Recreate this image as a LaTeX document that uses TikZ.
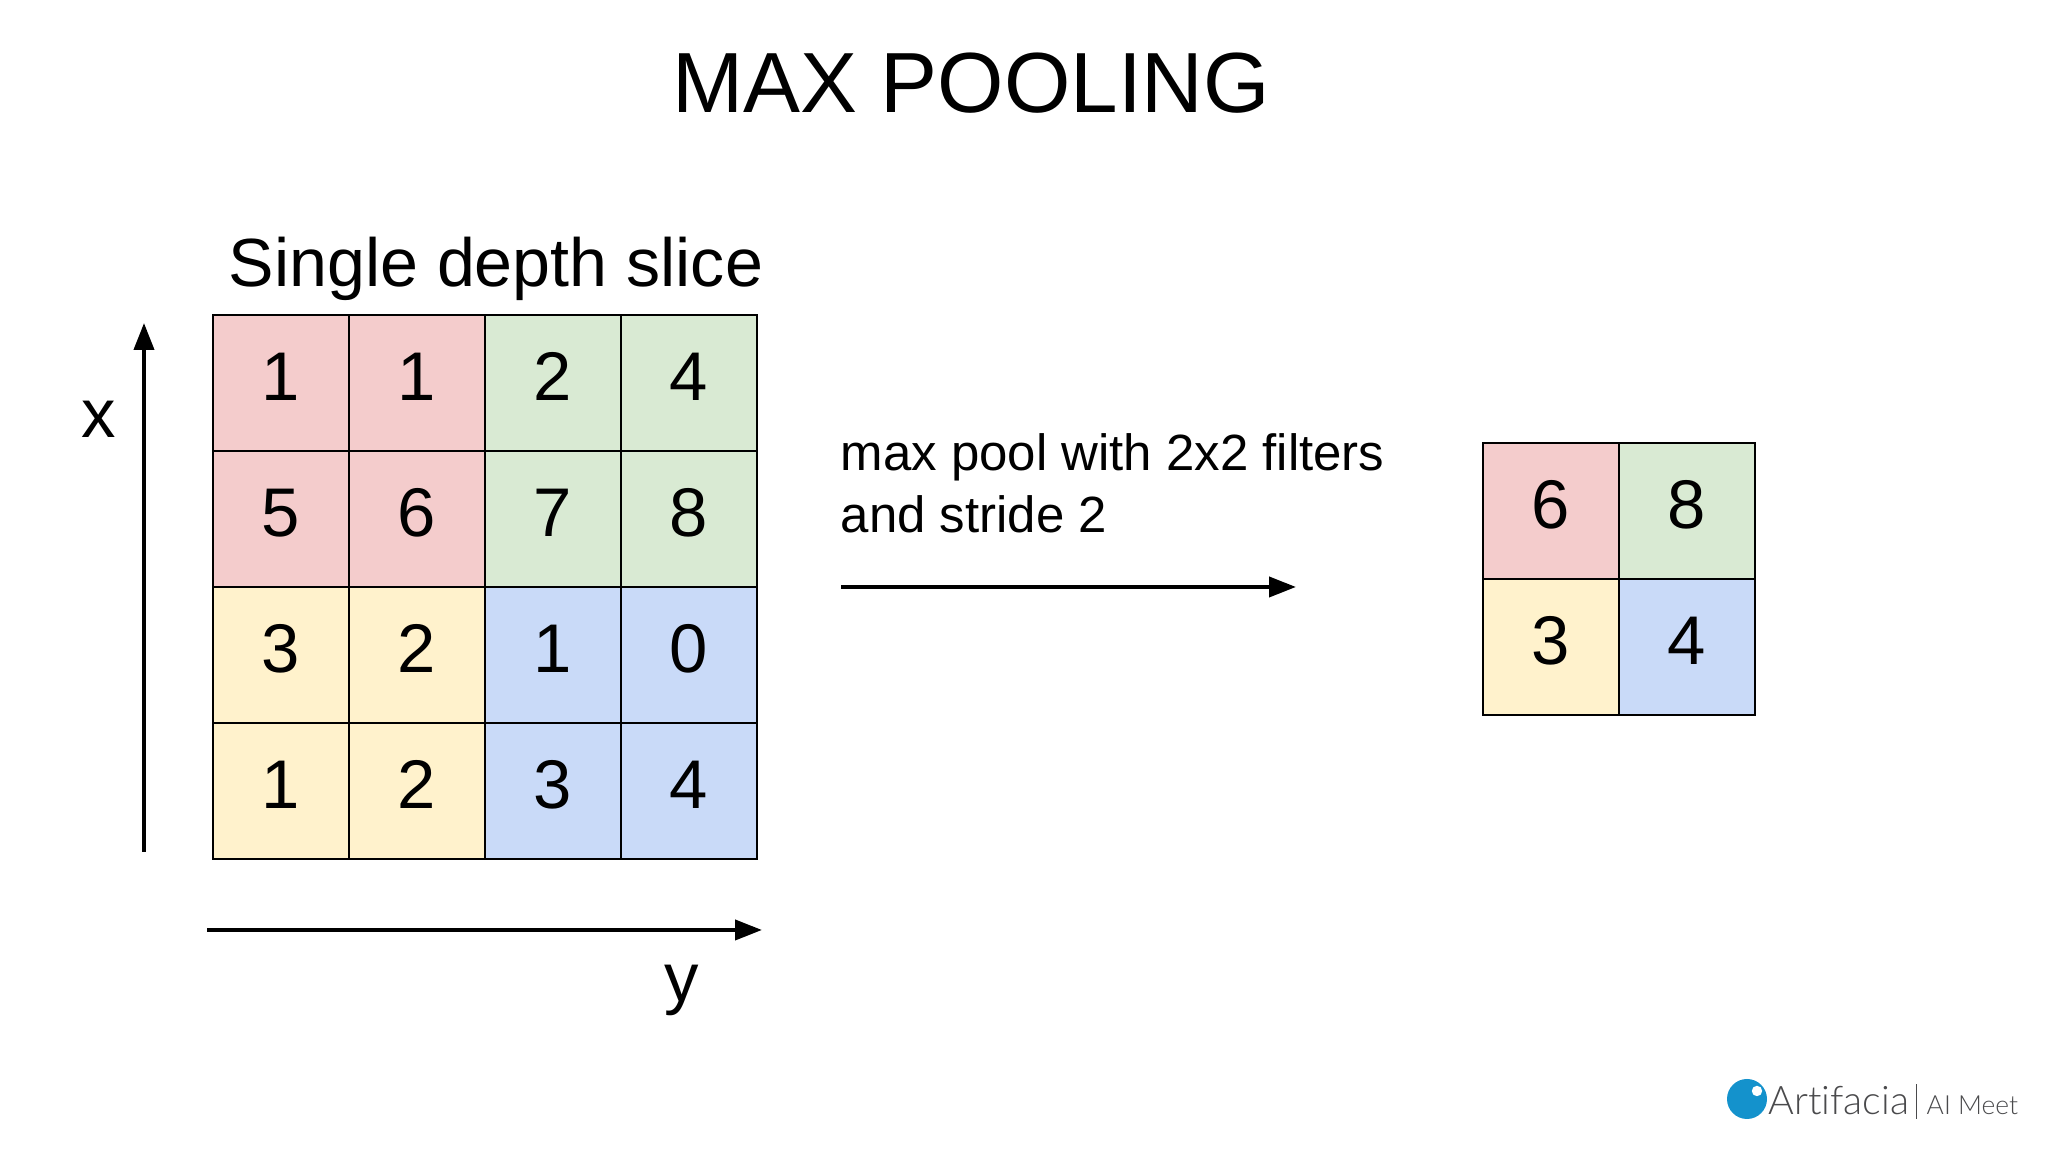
\documentclass[tikz,border=0pt]{standalone}
\usepackage{fontspec}
\setmainfont{Liberation Sans}
\newfontfamily\logofont[Ligatures={NoCommon}]{Lato Light}
\usepackage{xcolor}
\usetikzlibrary{arrows.meta,positioning}
\definecolor{cellred}{HTML}{F4CCCC}
\definecolor{cellgreen}{HTML}{D9EAD3}
\definecolor{cellyellow}{HTML}{FFF2CC}
\definecolor{cellblue}{HTML}{C9DAF8}
\definecolor{logoblue}{HTML}{1492CC}
\definecolor{logogray}{HTML}{4A4A4C}
\tikzset{
  ax/.style={-{Triangle[length=0.27cm,width=0.20cm]},line width=0.04cm,black},
  cell/.style={draw=black,line width=0.02cm,minimum size=1.36cm,inner sep=0pt,outer sep=0pt,
    text height=0.49cm,text depth=0.14cm,font=\fontsize{19.6}{22}\selectfont},
  cellR/.style={cell,fill=cellred},
  cellG/.style={cell,fill=cellgreen},
  cellY/.style={cell,fill=cellyellow},
  cellB/.style={cell,fill=cellblue},
  axlab/.style={inner sep=0pt,anchor=base,font=\fontsize{19.6}{22}\selectfont},
  logotxt/.style={inner sep=0pt,anchor=base west,text=logogray,font=\logofont},
}
\begin{document}
\begin{tikzpicture}
    \useasboundingbox (0,0) rectangle (20.48,11.52);
    \node[inner sep=0pt,anchor=base,font=\fontsize{24.3}{28}\selectfont] (title) at (9.71,10.39) {MAX POOLING};
    \node[inner sep=0pt,anchor=base west,font=\fontsize{19.4}{22}\selectfont] (slice) at (2.28,8.65) {Single depth slice};
    % input slice
    \node[cellR] (a11) at (2.81,7.69) {1};
    \node[cellR] (a12) at (4.17,7.69) {1};
    \node[cellG] (a13) at (5.53,7.69) {2};
    \node[cellG] (a14) at (6.89,7.69) {4};
    \node[cellR] (a21) at (2.81,6.33) {5};
    \node[cellR] (a22) at (4.17,6.33) {6};
    \node[cellG] (a23) at (5.53,6.33) {7};
    \node[cellG] (a24) at (6.89,6.33) {8};
    \node[cellY] (a31) at (2.81,4.97) {3};
    \node[cellY] (a32) at (4.17,4.97) {2};
    \node[cellB] (a33) at (5.53,4.97) {1};
    \node[cellB] (a34) at (6.89,4.97) {0};
    \node[cellY] (a41) at (2.81,3.61) {1};
    \node[cellY] (a42) at (4.17,3.61) {2};
    \node[cellB] (a43) at (5.53,3.61) {3};
    \node[cellB] (a44) at (6.89,3.61) {4};
    % axes
    \coordinate (xfrom) at (1.44,3.00);
    \coordinate (xto) at (1.44,8.29);
    \coordinate (yfrom) at (2.07,2.22);
    \coordinate (yto) at (7.62,2.22);
    \draw[ax] (xfrom) -- (xto);
    \draw[ax] (yfrom) -- (yto);
    \node[axlab] (xlab) at (0.99,7.14) {x};
    \node[axlab] (ylab) at (6.82,1.50) {y};
    % pooling step
    \node[inner sep=0pt,anchor=west,align=left,font=\fontsize{14.5}{17.6}\selectfont] (step) at (8.40,6.69) {max pool with 2x2 filters\\and stride 2};
    \coordinate (stepfrom) at (8.41,5.65);
    \coordinate (stepto) at (12.96,5.65);
    \draw[ax] (stepfrom) -- (stepto);
    % output
    \node[cellR] (b11) at (15.51,6.41) {6};
    \node[cellG] (b12) at (16.87,6.41) {8};
    \node[cellY] (b21) at (15.51,5.05) {3};
    \node[cellB] (b22) at (16.87,5.05) {4};
    % logo
    \fill[logoblue] (17.47,0.53) circle (0.20);
    \fill[white] (17.57,0.61) circle (0.052);
    \node[logotxt,font=\logofont\fontsize{11.2}{13}\selectfont] (artifacia) at (17.68,0.37) {Artifacia};
    \fill[logogray] (19.155,0.33) rectangle (19.17,0.68);
    \node[logotxt,font=\logofont\fontsize{7.5}{9}\selectfont] (meet) at (19.26,0.37) {AI Meet};
\end{tikzpicture}
\end{document}
